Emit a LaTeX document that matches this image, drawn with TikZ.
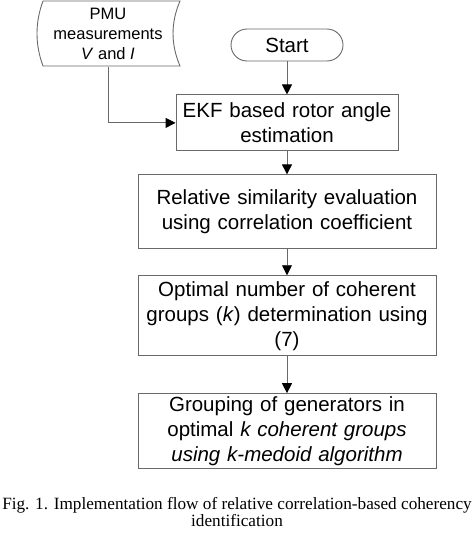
\documentclass[tikz,border=0pt]{standalone}
\usepackage{fontspec}
\setmainfont{Liberation Serif}
\setsansfont{Liberation Sans}
\usetikzlibrary{arrows.meta,positioning,calc}
\definecolor{linegray}{RGB}{105,105,105}

\begin{document}
\begin{tikzpicture}[x=1pt,y=-1pt,line width=0.9pt,
                    box node/.style={draw=linegray,align=center,inner sep=2pt,
                                     font=\sffamily\fontsize{20.5}{25}\selectfont},
                    flow/.style={draw=linegray,-{Triangle[length=10pt,width=10pt,color=black]}}]

  \useasboundingbox (0,0) rectangle (474,533);

  \node[box node,rounded corners=16pt,minimum width=112pt,minimum height=32pt,inner sep=0pt] (start) at (287,45) {Start};
  \node[box node,text width=218pt,minimum height=56pt] (ekf) [below=33pt of start] {EKF based rotor angle\\estimation};
  \node[box node,text width=294pt,minimum height=74pt] (sim) [below=23pt of ekf] {Relative similarity evaluation\\using correlation coefficient};
  \node[box node,text width=294pt,minimum height=80pt] (opt) [below=26pt of sim] {Optimal number of coherent\\groups (\textit{k}) determination using\\(7)};
  \node[box node,text width=294pt,minimum height=75pt] (grp) [below=37pt of opt] {Grouping of generators in\\optimal \textit{k coherent groups}\\\textit{using k-medoid algorithm}};

  % PMU data input
  \node[align=center,inner sep=0pt,minimum width=137pt,minimum height=65pt,
        font=\sffamily\fontsize{16.5}{20}\selectfont] (pmu) at (108,34) {PMU\\measurements\\\textit{V} and \textit{I}};
  \draw[linegray] (43,1) -- (180,1) .. controls (170.7,22.7) and (170.7,44.3) .. (180,66)
                  -- (43,66) .. controls (35,44.3) and (35,22.7) .. (43,1) -- cycle;

  \path[flow]
    (start) edge (ekf)
    (ekf) edge (sim)
    (sim) edge (opt)
    (opt) edge (grp);
  \draw[flow] (pmu.south) |- (ekf.west);

  \node[align=center,inner sep=0pt,font=\fontsize{17.2}{17}\selectfont] (caption) at (237,512)
    {Fig. 1. Implementation flow of relative correlation-based coherency\\identification};

\end{tikzpicture}
\end{document}
